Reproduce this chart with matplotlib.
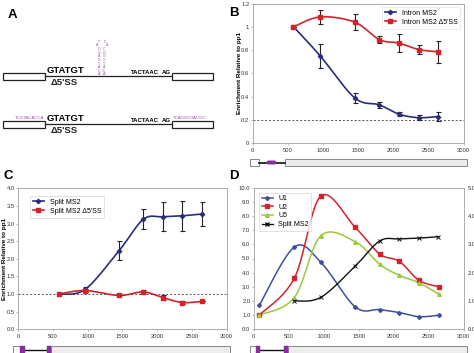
import numpy as np
import matplotlib
matplotlib.use("Agg")
import matplotlib.pyplot as plt
from matplotlib.patches import Rectangle, FancyBboxPatch

plt.rcParams['font.family'] = ['Liberation Sans', 'DejaVu Sans']

# ---------------- data ----------------
pos_B = [580, 960, 1450, 1800, 2080, 2360, 2640]
intron_ms2 = [1.0, 0.75, 0.39, 0.33, 0.25, 0.22, 0.23]
intron_ms2_err = [0.0, 0.10, 0.04, 0.028, 0.015, 0.02, 0.04]
intron_d5 = [1.0, 1.085, 1.04, 0.89, 0.86, 0.805, 0.785]
intron_d5_err = [0.0, 0.057, 0.067, 0.033, 0.08, 0.04, 0.093]

pos_C = [580, 960, 1450, 1800, 2080, 2360, 2640]
split_ms2 = [1.0, 1.13, 2.23, 3.12, 3.19, 3.22, 3.27]
split_ms2_err = [0.0, 0.06, 0.27, 0.28, 0.41, 0.43, 0.35]
split_d5 = [1.0, 1.1, 0.96, 1.06, 0.9, 0.76, 0.79]
split_d5_err = [0.0, 0.05, 0.0, 0.06, 0.06, 0.05, 0.0]

pos_D = [80, 580, 960, 1450, 1800, 2080, 2360, 2640]
u1 = [1.69, 5.81, 4.73, 1.58, 1.39, 1.18, 0.89, 0.99]
u2 = [1.0, 3.6, 9.41, 7.2, 5.32, 4.8, 3.46, 3.01]
u5 = [1.0, 2.24, 6.61, 6.19, 4.59, 3.81, 3.29, 2.49]
pos_Dsplit = [580, 960, 1450, 1800, 2080, 2360, 2640]

B_ticks = [0, 0.2, 0.4, 0.6, 0.8, 1, 1.2]
B_ticklabels = ['0', '0.2', '0.4', '0.6', '0.8', '1', '1.2']
x_ticks = [0, 500, 1000, 1500, 2000, 2500, 3000]

W, H = 474, 353
NAVY = '#2a2c7c'
RED = '#d2232a'
BLUE = '#3f4fa0'
GREEN = '#9cc83c'

fig = plt.figure(figsize=(W / 100, H / 100), dpi=100)


def rect(l, t, r, b):
    return [l / W, 1 - b / H, (r - l) / W, (b - t) / H]


def smooth_xy(x, y, xr, yr, wpx, hpx, n=24):
    X = np.asarray(x, float) / xr * wpx
    Y = np.asarray(y, float) / yr * hpx
    P = np.column_stack([X, Y])
    out = [P[0]]
    m = len(P)
    for i in range(m - 1):
        p0 = P[i - 1] if i > 0 else P[i]
        p1 = P[i]
        p2 = P[i + 1]
        p3 = P[i + 2] if i + 2 < m else P[i + 1]
        b1 = p1 + (p2 - p0) / 6.0
        b2 = p2 - (p3 - p1) / 6.0
        t = np.linspace(0, 1, n)[1:, None]
        seg = ((1 - t) ** 3) * p1 + 3 * ((1 - t) ** 2) * t * b1 + 3 * (1 - t) * t ** 2 * b2 + t ** 3 * p2
        out.extend(seg)
    out = np.array(out)
    return out[:, 0] * xr / wpx, out[:, 1] * yr / hpx


def style_ax(ax):
    for s in ax.spines.values():
        s.set_color('#a0a0a0')
        s.set_linewidth(0.6)
    ax.tick_params(labelsize=4.2, length=1.5, width=0.5, colors='#a0a0a0',
                   labelcolor='#333333', pad=2)
    ax.tick_params(axis='y', pad=1.2, length=1.2)
    ax.set_xlim(0, 3000)
    ax.set_xticks(x_ticks)


def series(ax, x, y, color, marker, ms, yr, wpx, hpx, lw=1.2, label=None, err=None, mfc=None):
    sx, sy = smooth_xy(x, y, 3000, yr, wpx, hpx)
    ax.plot(sx, sy, color=color, lw=lw, zorder=3)
    if err is not None:
        ax.errorbar(x, y, yerr=err, fmt='none', ecolor='#222222', elinewidth=0.8,
                    capsize=1.8, capthick=0.8, zorder=4)
    ax.plot(x, y, linestyle='none', marker=marker, ms=ms, color=color,
            mfc=mfc if mfc else color, mec=color, zorder=5)
    ax.plot([], [], color=color, lw=lw, marker=marker, ms=ms, label=label)


# ---------------- Panel B ----------------
axB = fig.add_axes(rect(252.7, 3.5, 463.7, 143.3))
style_ax(axB)
axB.set_ylim(0, 1.2)
axB.set_yticks(B_ticks)
axB.set_yticklabels(B_ticklabels)
wB, hB = 211, 140
series(axB, pos_B, intron_ms2, NAVY, 'D', 2.2, 1.2, wB, hB, label='Intron MS2', err=intron_ms2_err)
series(axB, pos_B, intron_d5, RED, 's', 2.8, 1.2, wB, hB, label="Intron MS2 \u03945'SS", err=intron_d5_err)
axB.axhline(0.2, color='#555555', lw=0.7, ls=(0, (2, 2)), zorder=2)
axB.set_ylabel('Enrichment Relative to pp1', fontsize=4.6, fontweight='bold')
axB.yaxis.set_label_coords((241.5 - 252.7) / 211, 0.5)
legB = axB.legend(loc='upper right', fontsize=5, frameon=True, handlelength=1.6,
                  borderpad=0.4, labelspacing=0.3, fancybox=False, bbox_to_anchor=(1.0, 1.0))
legB.get_frame().set_edgecolor('#dddddd')
legB.get_frame().set_linewidth(0.5)

# ---------------- Panel C ----------------
axC = fig.add_axes(rect(18.3, 188.3, 226.7, 329.3))
style_ax(axC)
axC.set_ylim(0, 4.0)
axC.set_yticks(np.arange(0, 4.01, 0.5))
axC.yaxis.set_major_formatter(matplotlib.ticker.FormatStrFormatter('%.1f'))
wC, hC = 208, 141
series(axC, pos_C, split_ms2, NAVY, 'D', 2.2, 4.0, wC, hC, label='Split MS2', err=split_ms2_err)
series(axC, pos_C, split_d5, RED, 's', 2.8, 4.0, wC, hC, label="Split MS2 \u03945'SS", err=split_d5_err)
axC.axhline(1.0, color='#555555', lw=0.7, ls=(0, (2, 2)), zorder=2)
axC.set_ylabel('Enrichment Relative to pp1', fontsize=4.6, fontweight='bold')
axC.yaxis.set_label_coords((6.6 - 18.3) / 208, 0.5)
legC = axC.legend(loc='upper left', fontsize=5, frameon=True, handlelength=1.6,
                  borderpad=0.4, labelspacing=0.3, fancybox=False, bbox_to_anchor=(0.04, 0.97))
legC.get_frame().set_edgecolor('#cccccc')
legC.get_frame().set_linewidth(0.5)

# ---------------- Panel D ----------------
axD = fig.add_axes(rect(253.7, 187.7, 463.7, 329.3))
style_ax(axD)
axD.set_ylim(0, 10)
axD.set_yticks(np.arange(0, 10.01, 1.0))
axD.yaxis.set_major_formatter(matplotlib.ticker.FormatStrFormatter('%.1f'))
wD, hD = 210, 141.6
series(axD, pos_D, u1, BLUE, 'D', 2.0, 10, wD, hD, lw=1.1, label='U1')
series(axD, pos_D, u2, RED, 's', 2.6, 10, wD, hD, lw=1.1, label='U2')
series(axD, pos_D, u5, GREEN, '^', 2.6, 10, wD, hD, lw=1.1, label='U5')
axD2 = axD.twinx()
axD2.set_ylim(0, 5)
axD2.set_yticks(np.arange(0, 5.01, 1.0))
axD2.yaxis.set_major_formatter(matplotlib.ticker.FormatStrFormatter('%.1f'))
axD2.tick_params(labelsize=4.2, length=0, colors='#a0a0a0', labelcolor='#333333', pad=3)
for s in axD2.spines.values():
    s.set_visible(False)
sx, sy = smooth_xy(pos_Dsplit, split_ms2, 3000, 5, wD, hD)
axD2.plot(sx, sy, color='#111111', lw=1.0, zorder=3)
axD2.plot(pos_Dsplit, split_ms2, ls='none', marker='x', ms=2.2, mew=0.7, color='#111111')
axD.plot([], [], color='#111111', lw=1.0, marker='x', ms=2.2, label='Split MS2')
legD = axD.legend(loc='upper left', fontsize=5, frameon=True, handlelength=1.6,
                  borderpad=0.35, labelspacing=0.25, fancybox=False, bbox_to_anchor=(0.01, 0.99))
legD.get_frame().set_edgecolor('#cccccc')
legD.get_frame().set_linewidth(0.5)

# ---------------- Overlay (panel A and schematics) ----------------
ov = fig.add_axes([0, 0, 1, 1], zorder=10)
ov.set_xlim(0, W)
ov.set_ylim(H, 0)
ov.axis('off')
ov.patch.set_alpha(0)

PURPLE = '#9b4aa8'
for lab, x, y in [('A', 7.5, 14.5), ('B', 229.5, 13.5), ('C', 3.5, 176), ('D', 229.5, 176)]:
    ov.text(x, y, lab, fontsize=9.5, fontweight='bold', ha='left', va='center')


def construct(yc, with_loop, with_tags):
    ov.add_patch(Rectangle((3.5, yc - 3.7), 41.5, 7.4, fc='white', ec='#222222', lw=0.9))
    ov.add_patch(Rectangle((172, yc - 3.7), 41.5, 7.4, fc='white', ec='#222222', lw=0.9))
    ov.plot([45, 172], [yc, yc], color='#222222', lw=0.9)
    ov.text(47, yc - 1.0, 'GTATGT', fontsize=6.8, fontweight='bold', ha='left', va='bottom')
    ov.text(51, yc + 2.0, "\u03945'SS", fontsize=6.8, fontweight='bold', ha='left', va='top', color='#222222')
    ov.text(131, yc - 1.0, 'TACTAAC', fontsize=4.3, fontweight='bold', ha='left', va='bottom')
    ov.text(162, yc - 1.0, 'AG', fontsize=4.3, fontweight='bold', ha='left', va='bottom')
    if with_loop:
        left = 'ACATGAGG'
        right = 'ACATGGGC'
        for i, ch in enumerate(left):
            ov.text(99, yc - 2 - i * 3.6, ch, fontsize=2.6, color=PURPLE, ha='center', va='center')
        for i, ch in enumerate(right):
            ov.text(104.5, yc - 2 - i * 3.6, ch, fontsize=2.6, color=PURPLE, ha='center', va='center')
        ov.text(97, yc - 31, 'A', fontsize=2.6, color=PURPLE, ha='center', va='center')
        ov.text(107, yc - 31, 'A', fontsize=2.6, color=PURPLE, ha='center', va='center')
        ov.text(99, yc - 34, 'T', fontsize=2.6, color=PURPLE, ha='center', va='center')
        ov.text(105, yc - 34, 'C', fontsize=2.6, color=PURPLE, ha='center', va='center')
    if with_tags:
        ov.text(44.5, yc - 4.5, 'TCGTACACCA', fontsize=3.2, color=PURPLE, ha='right', va='bottom')
        ov.text(172.5, yc - 4.5, 'TCAGGGTACGC', fontsize=3.2, color=PURPLE, ha='left', va='bottom')


construct(76.4, True, False)
construct(124.2, False, True)


def gene_schematic(yc, x0, xbox, xend, purple_oval=None, bars=None):
    h = 6.4
    ov.add_patch(Rectangle((x0, yc - h / 2), 8.5 if purple_oval else 7, h, fc='white', ec='#888888', lw=0.7))
    ov.add_patch(Rectangle((xbox, yc - h / 2), xend - xbox, h, fc='#ececec', ec='#888888', lw=0.7))
    if purple_oval:
        ov.plot([x0 + 8.5, xbox], [yc, yc], color='#222222', lw=1.3, zorder=2)
        a, b = purple_oval
        ov.add_patch(FancyBboxPatch((a, yc - 1.6), b - a, 3.2, boxstyle='round,pad=0,rounding_size=1.6',
                                    fc='#8a2d9c', ec='#8a2d9c', lw=0.5, zorder=3))
    if bars:
        ov.plot([bars[0][1], bars[1][0]], [yc, yc], color='#111111', lw=1.0, zorder=2)
        for a, b in bars:
            ov.add_patch(Rectangle((a, yc - h / 2 - 0.6), b - a, h + 1.2, fc='#8a2d9c', ec='#8a2d9c', lw=0.3, zorder=3))


gene_schematic(162.5, 250.5, 285, 467, purple_oval=(267, 276))
gene_schematic(349.5, 13.5, 51.5, 230, bars=[(20.5, 25), (47.5, 51.5)])
gene_schematic(349.5, 250.5, 288, 467, bars=[(256, 260), (284.5, 288.5)])

fig.savefig('out.png', dpi=100)
